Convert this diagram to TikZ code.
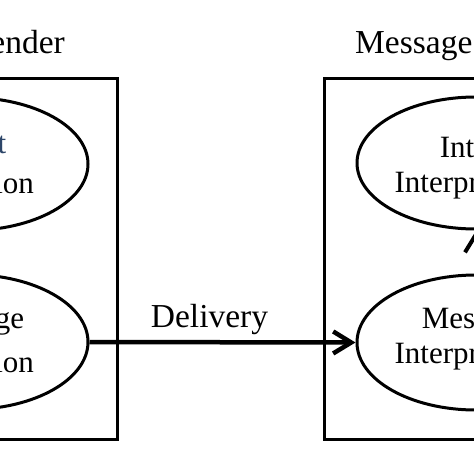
\documentclass[tikz,border=0pt]{standalone}
\usepackage{fontspec}
\setmainfont{Liberation Serif}
\usetikzlibrary{shapes.geometric,arrows.meta}
\definecolor{inkblue}{RGB}{45,70,105}
\begin{document}
\begin{tikzpicture}[x=1pt,y=-1pt,
  frame/.style={draw=black,line width=3pt},
  oval/.style={draw=black,line width=3pt,ellipse,minimum width=238pt,inner sep=0pt},
  inner/.style={inner sep=0pt,anchor=base,font=\fontsize{31}{36}\selectfont},
  title/.style={inner sep=0pt,font=\fontsize{33.5}{40}\selectfont},
  flow/.style={line width=4.5pt,-{Straight Barb[length=18pt,width=22pt]}},
  up/.style={line width=4pt,-{Straight Barb[length=18pt,width=22pt]}}]
\useasboundingbox (0,0) rectangle (474,474);
\clip (0,0) rectangle (474,474);
\fill[white] (0,0) rectangle (474,474);
\draw[frame] (-200,78) rectangle (117,439);
\draw[frame] (324,78) rectangle (660,439);
\node[title,anchor=base east] (ts) at (65,53) {Message Sender};
\node[title,anchor=base west] (tr) at (355,53) {Message Receiver};
\node[oval,minimum height=133pt] (ig) at (-31,164) {};
\node[oval,minimum height=135pt] (mg) at (-31,342) {};
\node[oval,minimum height=132pt] (ii) at (476,163) {};
\node[oval,minimum height=135pt] (mi) at (476,342.5) {};
\node[inner,text=inkblue] (ig1) at (-30,153) {Intent};
\node[inner] (ig2) at (-35,193) {Generation};
\node[inner] (mg1) at (-30,328) {Message};
\node[inner] (mg2) at (-35,372) {Generation};
\node[inner] (ii1) at (476,157) {Intent};
\node[inner] (ii2) at (479,192) {Interpretation};
\node[inner] (mi1) at (476,328) {Message};
\node[inner] (mi2) at (479,363) {Interpretation};
\draw[flow] (mg.east) -- (mi.west);
\node[title,anchor=base] (dl) at (209.5,327) {Delivery};
\draw[up] (mi.north) -- (ii.south);
\end{tikzpicture}
\end{document}
